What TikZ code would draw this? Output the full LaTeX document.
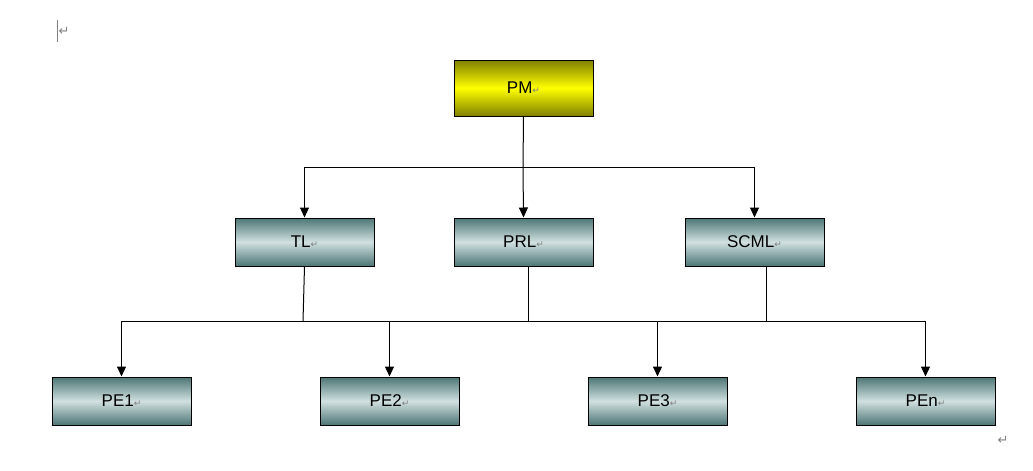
\documentclass[tikz,border=0pt]{standalone}
\usepackage{fontspec}
\setmainfont{Liberation Sans}
\newfontfamily\dv{DejaVu Sans}
\usetikzlibrary{arrows.meta}
\begin{document}
\begin{tikzpicture}[x=1pt,y=-1pt,
  box/.style={draw=black,line width=1pt,minimum width=139pt,minimum height=48pt,inner sep=0pt,font=\fontsize{17}{20}\selectfont},
  teal/.style={box,top color=black!60!cyan!40!gray,bottom color=black!60!cyan!40!gray,middle color=cyan!20!gray!30},
  yel/.style={box,minimum height=56pt,top color=yellow!50!black,bottom color=yellow!50!black,middle color=yellow},
  ret/.style={text=gray,font=\dv\fontsize{13}{13}\selectfont,inner sep=0pt},
  arr/.style={-{Triangle[length=10pt,width=9pt]},line width=1pt},
  ln/.style={line width=1pt}]
\useasboundingbox (0,0) rectangle (1033,471);
\node[ret] (r0) at (64,31) {↵};
\draw[gray,line width=0.6pt] (57,20) -- (57,42);
\node[ret] (r1) at (1003,440) {↵};
\node[yel] (pm) at (523.5,88) {PM\textcolor{gray}{\dv\small ↵}};
\node[teal] (tl) at (304.5,242) {TL\textcolor{gray}{\dv\small ↵}};
\node[teal] (prl) at (523.5,242) {PRL\textcolor{gray}{\dv\small ↵}};
\node[teal] (scml) at (754.5,242) {SCML\textcolor{gray}{\dv\small ↵}};
\node[teal] (pe1) at (121.5,401) {PE1\textcolor{gray}{\dv\small ↵}};
\node[teal] (pe2) at (389.5,401) {PE2\textcolor{gray}{\dv\small ↵}};
\node[teal] (pe3) at (657.5,401) {PE3\textcolor{gray}{\dv\small ↵}};
\node[teal] (pen) at (925.5,401) {PEn\textcolor{gray}{\dv\small ↵}};
\coordinate (j1) at (523,167);
\draw[ln] (pm.south) -- (j1);
\draw[arr] (j1) -| (tl.north);
\draw[arr] (j1) -- (prl.north);
\draw[arr] (j1) -| (scml.north);
\coordinate (j2) at (303,321);
\coordinate (j3) at (528,321);
\coordinate (j4) at (766,321);
\draw[ln] (tl.south) -- (j2);
\draw[ln] (prl.south -| j3) -- (j3);
\draw[ln] (scml.south -| j4) -- (j4);
\draw[ln] (j2) -- (j4);
\draw[arr] (j2) -| (pe1.north);
\draw[arr] (j2) -| (pe2.north);
\draw[arr] (j4) -| (pe3.north);
\draw[arr] (j4) -| (pen.north);
\end{tikzpicture}
\end{document}
